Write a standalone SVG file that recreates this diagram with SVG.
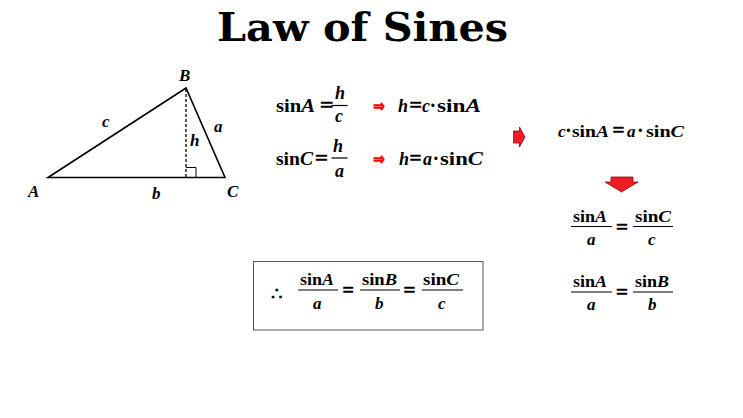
<svg xmlns="http://www.w3.org/2000/svg" width="743" height="418" viewBox="0 0 743 418">
<defs>
<style>
.title{font-family:"DejaVu Serif","Liberation Serif",serif;font-weight:bold;font-size:40px;fill:#000}
.m{font-family:"Liberation Serif","Times New Roman",serif;font-weight:bold;font-size:18px;fill:#000}
.s{font-family:"Liberation Serif","Times New Roman",serif;font-weight:bold;font-size:17px;fill:#000}
.eq{font-family:"Liberation Serif","Times New Roman",serif;font-weight:bold;font-size:22px;fill:#000;stroke:#000;stroke-width:0.6}
.dot{font-family:"Liberation Serif","Times New Roman",serif;font-weight:bold;font-size:20px;fill:#000}
.it{font-style:italic}
.bar{stroke:#000;stroke-width:1.2;fill:none}
.edge{stroke:#000;stroke-width:1.6;fill:none}
.imp{font-family:"DejaVu Sans",sans-serif;font-weight:bold;font-size:18px;fill:#ff0000;stroke:#ff0000;stroke-width:0.5}
.blk{fill:#ee1c25;stroke:#8a0e12;stroke-width:0.8}
</style>
</defs>
<rect width="743" height="418" fill="#fff"/>
<text class="title" x="217" y="41" textLength="291" lengthAdjust="spacingAndGlyphs">Law of Sines</text>

<g id="triangle">
<polygon class="edge" points="48,177.5 186,88 225,177.5"/>
<line x1="186" y1="89" x2="186" y2="177.5" stroke="#000" stroke-width="1.3" stroke-dasharray="3,2"/>
<polyline points="186,167.5 196,167.5 196,177.5" fill="none" stroke="#000" stroke-width="1"/>
<text class="s it" x="179" y="81">B</text>
<text class="s it" x="28" y="197">A</text>
<text class="s it" x="227" y="197">C</text>
<text class="s it" x="102" y="127">c</text>
<text class="s it" x="214" y="132">a</text>
<text class="s it" x="190" y="146">h</text>
<text class="s it" x="152" y="199">b</text>
</g>

<g id="eq-sinA">
<text class="m" x="276" y="112" textLength="39" lengthAdjust="spacingAndGlyphs">sin<tspan class="it">A</tspan></text>
<text class="eq" x="320" y="112" textLength="13.5" lengthAdjust="spacingAndGlyphs">=</text>
<text class="m it" x="335" y="99">h</text>
<line class="bar" x1="331.5" y1="105.5" x2="347.5" y2="105.5"/>
<text class="m it" x="335" y="122">c</text>
</g>
<g id="eq-hA">
<text class="m it" x="398" y="112">h</text>
<text class="eq" x="409.5" y="112" textLength="12.5" lengthAdjust="spacingAndGlyphs">=</text>
<text class="m it" x="422" y="112">c</text>
<text class="dot" x="429.5" y="112">·</text>
<text class="m" x="437" y="112" textLength="44" lengthAdjust="spacingAndGlyphs">sin<tspan class="it">A</tspan></text>
</g>

<g id="eq-sinC">
<text class="m" x="276" y="165" textLength="37" lengthAdjust="spacingAndGlyphs">sin<tspan class="it">C</tspan></text>
<text class="eq" x="315" y="165" textLength="13" lengthAdjust="spacingAndGlyphs">=</text>
<text class="m it" x="333" y="152">h</text>
<line class="bar" x1="331.5" y1="158" x2="347.5" y2="158"/>
<text class="m it" x="335" y="177">a</text>
</g>
<g id="eq-hC">
<text class="m it" x="399" y="165">h</text>
<text class="eq" x="409.5" y="165" textLength="12" lengthAdjust="spacingAndGlyphs">=</text>
<text class="m it" x="423" y="165">a</text>
<text class="dot" x="432.5" y="165">·</text>
<text class="m" x="440" y="165" textLength="43" lengthAdjust="spacingAndGlyphs">sin<tspan class="it">C</tspan></text>
</g>

<g id="eq-combined">
<text class="s it" x="558" y="137">c</text>
<text class="dot" x="565" y="137">·</text>
<text class="s" x="572" y="137" textLength="37" lengthAdjust="spacingAndGlyphs">sin<tspan class="it">A</tspan></text>
<text class="eq" x="612.5" y="137" textLength="12" lengthAdjust="spacingAndGlyphs">=</text>
<text class="s it" x="627" y="137">a</text>
<text class="dot" x="637" y="137">·</text>
<text class="s" x="646" y="137" textLength="38" lengthAdjust="spacingAndGlyphs">sin<tspan class="it">C</tspan></text>
</g>

<g id="ratio-AC">
<text class="s" x="573" y="222" textLength="34" lengthAdjust="spacingAndGlyphs">sin<tspan class="it">A</tspan></text>
<line class="bar" x1="571" y1="226.5" x2="612" y2="226.5"/>
<text class="s it" x="587" y="245">a</text>
<text class="eq" x="616" y="234" textLength="12" lengthAdjust="spacingAndGlyphs">=</text>
<text class="s" x="635" y="222" textLength="36" lengthAdjust="spacingAndGlyphs">sin<tspan class="it">C</tspan></text>
<line class="bar" x1="633" y1="226.5" x2="673" y2="226.5"/>
<text class="s it" x="648" y="245">c</text>
</g>

<g id="ratio-AB">
<text class="s" x="573" y="287" textLength="34" lengthAdjust="spacingAndGlyphs">sin<tspan class="it">A</tspan></text>
<line class="bar" x1="571" y1="292" x2="612" y2="292"/>
<text class="s it" x="587" y="310">a</text>
<text class="eq" x="616" y="299" textLength="12" lengthAdjust="spacingAndGlyphs">=</text>
<text class="s" x="635" y="287" textLength="34" lengthAdjust="spacingAndGlyphs">sin<tspan class="it">B</tspan></text>
<line class="bar" x1="633" y1="292" x2="673" y2="292"/>
<text class="s it" x="648" y="310">b</text>
</g>

<g id="conclusion">
<rect x="253.5" y="261.5" width="229.5" height="68.5" fill="none" stroke="#555" stroke-width="1"/>
<text x="271" y="300" font-family="DejaVu Serif,serif" font-size="18" font-weight="bold" fill="#000">∴</text>
<text class="s" x="300" y="285" textLength="34" lengthAdjust="spacingAndGlyphs">sin<tspan class="it">A</tspan></text>
<line class="bar" x1="298" y1="290" x2="338" y2="290"/>
<text class="s it" x="313" y="309">a</text>
<text class="eq" x="342.5" y="297" textLength="11.5" lengthAdjust="spacingAndGlyphs">=</text>
<text class="s" x="362" y="285" textLength="35" lengthAdjust="spacingAndGlyphs">sin<tspan class="it">B</tspan></text>
<line class="bar" x1="360" y1="290" x2="400" y2="290"/>
<text class="s it" x="375" y="309">b</text>
<text class="eq" x="403.5" y="297" textLength="12" lengthAdjust="spacingAndGlyphs">=</text>
<text class="s" x="423" y="285" textLength="36" lengthAdjust="spacingAndGlyphs">sin<tspan class="it">C</tspan></text>
<line class="bar" x1="422" y1="290" x2="463" y2="290"/>
<text class="s it" x="438" y="309">c</text>
</g>

<g id="connectors">
<text class="imp" x="373" y="112" textLength="12" lengthAdjust="spacingAndGlyphs">⇒</text>
<text class="imp" x="373" y="165" textLength="12" lengthAdjust="spacingAndGlyphs">⇒</text>
<polygon class="blk" points="513.5,131 519.5,131 519.5,127 525,137 519.5,147 519.5,143 513.5,143"/>
<polygon class="blk" points="611,177 633,177 633,182 638,182 621.5,192 605,182 611,182"/>
</g>
</svg>
